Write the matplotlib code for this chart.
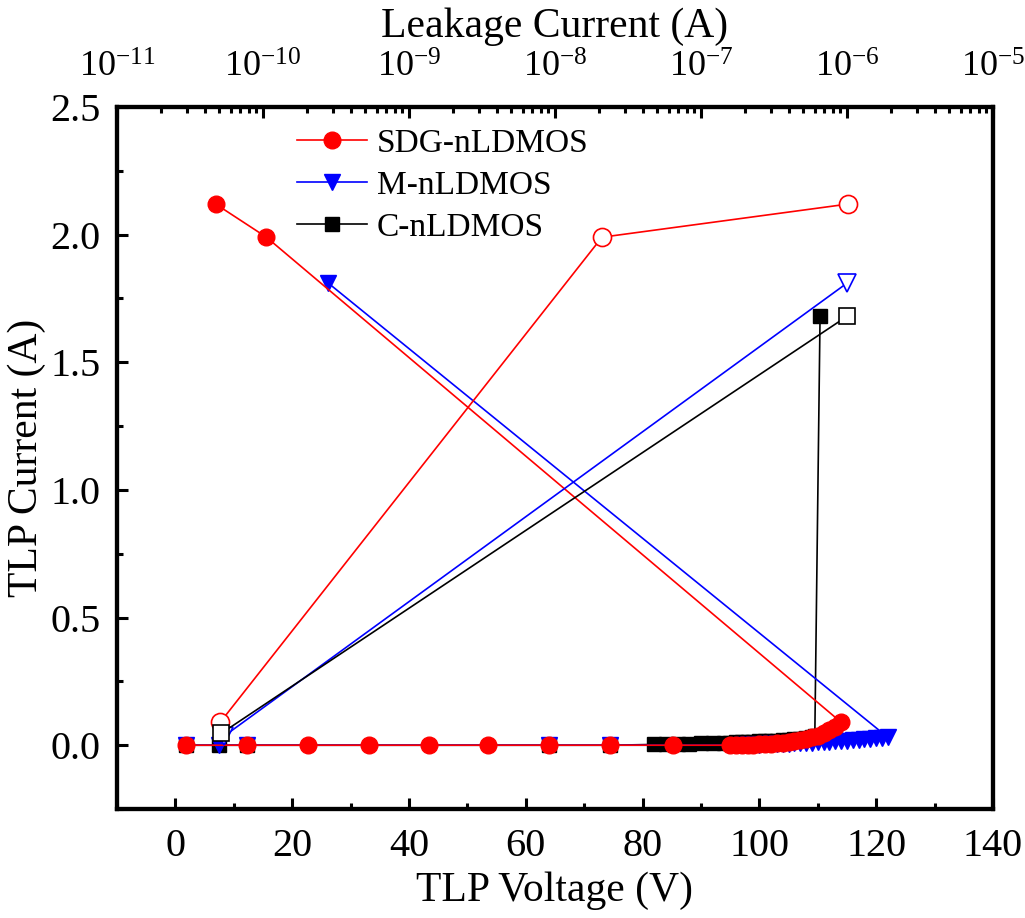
import matplotlib
matplotlib.use("Agg")
import matplotlib.pyplot as plt
from matplotlib.ticker import LogLocator, MultipleLocator, NullFormatter

plt.rcParams['font.family'] = ['Liberation Serif', 'DejaVu Serif']
plt.rcParams['mathtext.fontset'] = 'custom'
plt.rcParams['mathtext.rm'] = 'Liberation Serif'
plt.rcParams['mathtext.it'] = 'Liberation Serif:italic'

# TLP I-V data (bottom axis, V / A)
sdg_v = [1.8, 12.2, 22.8, 33.1, 43.4, 53.6, 63.9, 74.4, 85.2,
         95, 96, 97, 98, 99, 100, 101, 102, 103, 104, 105, 106, 107,
         108, 109, 110, 111, 112, 113, 114, 15.6, 6.9]
sdg_i = [0, 0, 0, 0, 0, 0, 0, 0, 0,
         0, 0, 0.001, 0.001, 0.002, 0.003, 0.004, 0.006, 0.008, 0.010, 0.013,
         0.016, 0.020, 0.025, 0.031, 0.038, 0.047, 0.058, 0.072, 0.090,
         1.99, 2.12]

m_v = [1.8, 7.4, 12.2, 63.9, 74.5,
       97, 98, 99, 100, 101, 102, 103, 104, 105, 106, 107, 108, 109, 110,
       111, 112, 113, 114, 115, 116, 117, 118, 119, 120, 121, 122, 26.2]
m_i = [0, 0, 0, 0, 0,
       0.000, 0.001, 0.002, 0.002, 0.003, 0.004, 0.004, 0.005, 0.006, 0.007,
       0.008, 0.009, 0.010, 0.011, 0.012, 0.013, 0.015, 0.016, 0.018, 0.019,
       0.021, 0.023, 0.025, 0.027, 0.029, 0.031, 1.81]

c_v = [1.8, 7.4, 12.2, 63.9, 74.5, 82, 84, 86, 88, 90, 92, 94, 95, 96, 97,
       98, 99, 100, 101, 102, 103, 104, 105, 106, 107, 108, 109, 109.5, 110.4]
c_i = [0, 0, 0, 0, 0, 0.003, 0.004, 0.005, 0.006, 0.007, 0.008, 0.009, 0.010,
       0.011, 0.012, 0.013, 0.014, 0.015, 0.016, 0.017, 0.018, 0.019, 0.021,
       0.023, 0.025, 0.028, 0.031, 0.035, 1.68]

# leakage data (top axis, A / A)
sdg_leak = [5.1e-11, 2.1e-8, 1.02e-6]
sdg_leak_i = [0.09, 1.99, 2.12]
m_leak = [5.4e-11, 1.0e-6]
m_leak_i = [0.035, 1.81]
c_leak = [5.2e-11, 1.0e-6]
c_leak_i = [0.047, 1.68]

top_ticks = [1e-11, 1e-10, 1e-9, 1e-8, 1e-7, 1e-6, 1e-5]

fig = plt.figure(figsize=(10.25, 9.18), dpi=100)
ax = fig.add_axes([0.1141, 0.1187, 0.8546, 0.7647])

lc, = ax.plot(c_v, c_i, '-s', color='black', ms=9.5, lw=1.2, label='C-nLDMOS')
lm, = ax.plot(m_v, m_i, '-v', color='blue', ms=12, lw=1.2, label='M-nLDMOS')
ls, = ax.plot(sdg_v, sdg_i, '-o', color='red', ms=12, lw=1.2, label='SDG-nLDMOS')

ax.set_xlim(-10, 140)
ax.set_ylim(-0.25, 2.5)
ax.xaxis.set_major_locator(MultipleLocator(20))
ax.xaxis.set_minor_locator(MultipleLocator(10))
ax.yaxis.set_major_locator(MultipleLocator(0.5))
ax.yaxis.set_minor_locator(MultipleLocator(0.25))
ax.tick_params(which='both', direction='in', top=False, right=False, width=2.2)
ax.tick_params(which='major', length=8, labelsize=29)
ax.tick_params(which='minor', length=4)
ax.tick_params(axis='x', pad=14)
ax.tick_params(axis='y', pad=12)
for sp in ax.spines.values():
    sp.set_linewidth(3)

ax.set_xlabel('TLP Voltage (V)', fontsize=30, labelpad=4)
ax.set_ylabel('TLP Current (A)', fontsize=30, labelpad=3)

ax2 = ax.twiny()
ax2.set_xscale('log')
ax2.plot(sdg_leak, sdg_leak_i, '-o', color='red', mfc='white', ms=13, mew=1.2, lw=1.2)
ax2.plot(m_leak, m_leak_i, '-v', color='blue', mfc='white', ms=13, mew=1.2, lw=1.2)
ax2.plot(c_leak, c_leak_i, '-s', color='black', mfc='white', ms=11, mew=1.2, lw=1.2)
ax2.set_xlim(1e-11, 1e-5)
ax2.set_ylim(-0.25, 2.5)
ax2.set_xticks(top_ticks)
ax2.xaxis.set_minor_locator(LogLocator(base=10, subs=range(2, 10), numticks=12))
ax2.xaxis.set_minor_formatter(NullFormatter())
ax2.tick_params(which='both', direction='in', width=2.2)
ax2.tick_params(which='major', length=8, labelsize=26, pad=16)
ax2.tick_params(which='minor', length=4)
ax2.set_xlabel('Leakage Current (A)', fontsize=30)
ax2.xaxis.set_label_coords(0.5, 1.1)
for sp in ax2.spines.values():
    sp.set_linewidth(3)

ax.legend(handles=[ls, lm, lc], loc='upper left', bbox_to_anchor=(0.205, 0.97),
          frameon=False, fontsize=24, handlelength=2.1, handletextpad=0.3,
          labelspacing=0.35, borderaxespad=0, borderpad=0)

fig.savefig('out.png', dpi=100)
